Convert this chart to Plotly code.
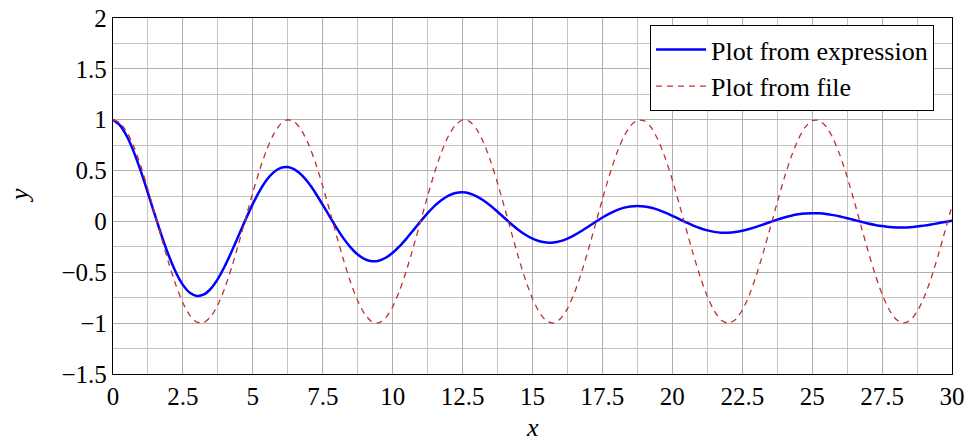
import plotly.graph_objects as go

x_vals = [i * 0.25 for i in range(121)]

y_expression = [
    1.0000, 0.9450, 0.8348, 0.6788, 0.4889, 0.2783, 0.0609, -0.1496,
    -0.3407, -0.5016, -0.6239, -0.7021, -0.7334, -0.7183, -0.6599, -0.5640,
    -0.4381, -0.2916, -0.1344, 0.0234, 0.1721, 0.3029, 0.4089, 0.4846,
    0.5270, 0.5350, 0.5098, 0.4547, 0.3744, 0.2751, 0.1637, 0.0478,
    -0.0654, -0.1690, -0.2573, -0.3255, -0.3704, -0.3905, -0.3857, -0.3574,
    -0.3087, -0.2434, -0.1664, -0.0830, 0.0015, 0.0817, 0.1530, 0.2115,
    0.2542, 0.2792, 0.2859, 0.2747, 0.2473, 0.2061, 0.1542, 0.0955,
    0.0337, -0.0271, -0.0832, -0.1316, -0.1695, -0.1952, -0.2077, -0.2068,
    -0.1934, -0.1687, -0.1349, -0.0945, -0.0503, -0.0051, 0.0381, 0.0769,
    0.1091, 0.1331, 0.1477, 0.1526, 0.1479, 0.1343, 0.1132, 0.0862,
    0.0552, 0.0224, -0.0102, -0.0406, -0.0671, -0.0881, -0.1027, -0.1103,
    -0.1108, -0.1045, -0.0920, -0.0746, -0.0534, -0.0300, -0.0059, 0.0174,
    0.0385, 0.0562, 0.0696, 0.0781, 0.0814, 0.0795, 0.0729, 0.0621,
    0.0480, 0.0317, 0.0143, -0.0032, -0.0196, -0.0341, -0.0457, -0.0540,
    -0.0585, -0.0593, -0.0564, -0.0501, -0.0412, -0.0301, -0.0177, -0.0048,
    0.0077,
]

y_file = [
    1.0000, 0.9689, 0.8776, 0.7317, 0.5403, 0.3153, 0.0707, -0.1782,
    -0.4161, -0.6282, -0.8011, -0.9243, -0.9900, -0.9941, -0.9365, -0.8206,
    -0.6536, -0.4461, -0.2108, 0.0376, 0.2837, 0.5121, 0.7087, 0.8612,
    0.9602, 0.9995, 0.9766, 0.8930, 0.7539, 0.5679, 0.3466, 0.1038,
    -0.1455, -0.3857, -0.6020, -0.7808, -0.9111, -0.9848, -0.9972, -0.9476,
    -0.8391, -0.6784, -0.4755, -0.2431, 0.0044, 0.2517, 0.4833, 0.6849,
    0.8439, 0.9504, 0.9978, 0.9832, 0.9074, 0.7753, 0.5949, 0.3776,
    0.1367, -0.1126, -0.3549, -0.5752, -0.7597, -0.8970, -0.9785, -0.9991,
    -0.9577, -0.8567, -0.7024, -0.5045, -0.2752, -0.0288, 0.2194, 0.4540,
    0.6603, 0.8256, 0.9395, 0.9951, 0.9887, 0.9209, 0.7958, 0.6213,
    0.4081, 0.1695, -0.0796, -0.3237, -0.5477, -0.7377, -0.8818, -0.9711,
    -1.0000, -0.9667, -0.8733, -0.7256, -0.5329, -0.3069, -0.0620, 0.1869,
    0.4242, 0.6350, 0.8064, 0.9276, 0.9912, 0.9931, 0.9333, 0.8155,
    0.6469, 0.4382, 0.2021, -0.0464, -0.2922, -0.5197, -0.7149, -0.8657,
    -0.9626, -0.9997, -0.9746, -0.8890, -0.7480, -0.5606, -0.3383, -0.0950,
    0.1543,
]

x_ticks = [0, 2.5, 5, 7.5, 10, 12.5, 15, 17.5, 20, 22.5, 25, 27.5, 30]
x_ticklabels = ["0", "2.5", "5", "7.5", "10", "12.5", "15", "17.5", "20", "22.5", "25", "27.5", "30"]
y_ticks = [-1.5, -1, -0.5, 0, 0.5, 1, 1.5, 2]
y_ticklabels = ["\u22121.5", "\u22121", "\u22120.5", "0", "0.5", "1", "1.5", "2"]

FONT = "Liberation Serif"
FS = 25

fig = go.Figure()
fig.add_trace(go.Scatter(
    x=x_vals, y=y_expression, mode="lines", name="Plot from expression",
    line=dict(color="rgb(0,0,255)", width=2.5, shape="spline", smoothing=0.6),
))
fig.add_trace(go.Scatter(
    x=x_vals, y=y_file, mode="lines", name="Plot from file",
    line=dict(color="rgb(191,48,48)", width=1.3, dash="6px,5px", shape="spline", smoothing=0.6),
))

major_grid = "rgb(175,175,175)"
minor_grid = "rgb(195,195,195)"

fig.update_layout(
    width=975, height=443,
    margin=dict(l=113, r=23, t=18, b=69, autoexpand=False),
    paper_bgcolor="white", plot_bgcolor="white",
    font=dict(family=FONT, size=FS, color="black"),
    showlegend=True,
    legend=dict(
        x=0.9786, y=0.9803, xanchor="right", yanchor="top",
        bgcolor="white", bordercolor="black", borderwidth=1,
        font=dict(family=FONT, size=FS + 1, color="black"),
        tracegroupgap=0, itemwidth=50,
    ),
    xaxis=dict(
        range=[0, 30], tickmode="array", tickvals=x_ticks, ticktext=x_ticklabels,
        showgrid=True, gridcolor=major_grid, gridwidth=1.2,
        minor=dict(dtick=1.25, tick0=0, showgrid=True, gridcolor=minor_grid, gridwidth=1.2),
        showline=True, linecolor="black", linewidth=1.3, mirror=True,
        ticks="", zeroline=False, automargin=False, ticklabeloverflow="allow",
        tickfont=dict(family=FONT, size=FS),
    ),
    yaxis=dict(
        range=[-1.5, 2], tickmode="array", tickvals=y_ticks, ticktext=y_ticklabels,
        showgrid=True, gridcolor=major_grid, gridwidth=1.2,
        minor=dict(dtick=0.25, tick0=0, showgrid=True, gridcolor=minor_grid, gridwidth=1.2),
        showline=True, linecolor="black", linewidth=1.3, mirror=True,
        ticks="", zeroline=False, automargin=False, ticklabeloverflow="allow",
        tickfont=dict(family=FONT, size=FS),
    ),
    annotations=[
        dict(text="<i>x</i>", xref="paper", yref="paper", x=0.5, y=-0.149,
             xanchor="center", yanchor="middle", showarrow=False,
             font=dict(family=FONT, size=FS + 1)),
        dict(text="<i>y</i>", xref="paper", yref="paper", x=-0.112, y=0.5,
             xanchor="center", yanchor="middle", showarrow=False, textangle=-90,
             font=dict(family=FONT, size=FS + 1)),
    ],
)

# remove the browser's default 8px body margin so the figure fills the window
fig.write_html(
    "out.html",
    config={"displayModeBar": False},
    post_script="document.body.style.margin='0px';",
)
